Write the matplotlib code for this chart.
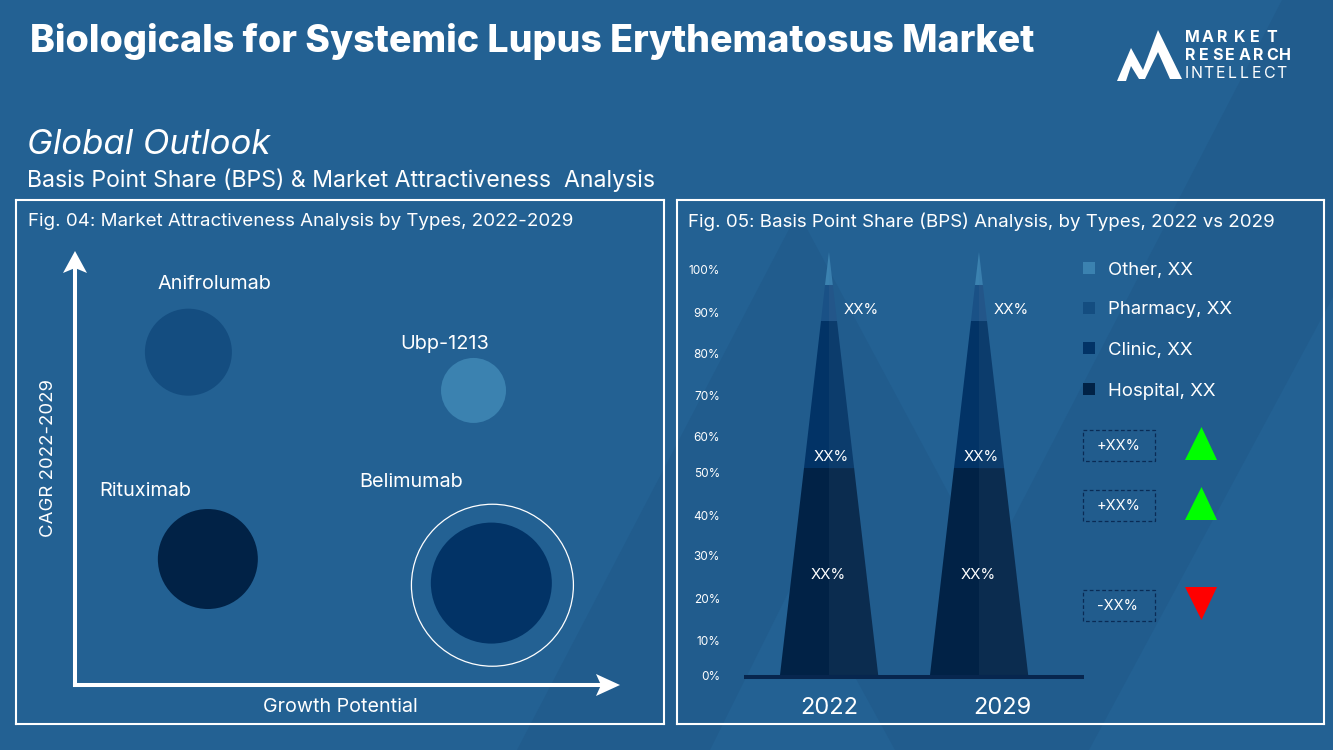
import matplotlib
matplotlib.use("Agg")
import matplotlib.pyplot as plt
from matplotlib.patches import Polygon, Rectangle

# Fig. 04 bubbles (growth potential / CAGR, 0-100 on the arrows)
types = ["Anifrolumab", "Ubp-1213", "Rituximab", "Belimumab"]
growth = [21.0, 73.8, 24.6, 77.1]
cagr = [77.4, 68.5, 29.3, 23.7]
radius_px = [43.5, 32.5, 50, 60.5]
ring_growth = 77.3
ring_cagr = 23.2
ring_px = 81

# Fig. 05 stacked pyramids
years = ["2022", "2029"]
hospital = [51.1, 51.1]
clinic = [36.3, 36.3]
pharmacy = [8.9, 8.9]
other = [8.1, 8.1]
tick_pos = [0, 8.6, 18.8, 29.4, 39.3, 49.9, 58.8, 68.9, 79.5, 89.4, 100]
tick_labels = ["0%", "10%", "20%", "30%", "40%", "50%", "60%", "70%", "80%", "90%", "100%"]
legend_labels = ["Other, XX", "Pharmacy, XX", "Clinic, XX", "Hospital, XX"]
changes = ["+XX%", "+XX%", "-XX%"]

BG = "#236193"
SHADE = "#215c8d"
NAVY = "#012246"
BLUE = "#023366"
MID = "#144d80"
LIGHT = "#3b82b0"
FONT = "Inter"

plt.rcParams["font.family"] = FONT
fig = plt.figure(figsize=(13.33, 7.5), dpi=100, facecolor=BG)


def box(x0, y0, x1, y1):
    return [x0 / 1333, 1 - y1 / 750, (x1 - x0) / 1333, (y1 - y0) / 750]


# overlay in pixels for the background, titles, logo and the side key
bg = fig.add_axes([0, 0, 1, 1], zorder=0)
bg.set_xlim(0, 1333)
bg.set_ylim(750, 0)
bg.axis("off")

bg.add_patch(Polygon([(798, 212), (517, 750), (710, 750), (798, 573), (895, 750), (1089, 750),
                      (1333, 297), (1333, 0), (1282, 0), (1012, 521), (988, 567)],
                     closed=True, fc=SHADE, ec="none"))

bg.text(30, 41, "Biologicals for Systemic Lupus Erythematosus Market", color="white",
        fontsize=27.0, fontweight=800, va="center")
bg.text(27, 145, "Global Outlook", color="white", fontsize=25, style="italic", va="center")
bg.text(27, 180, "Basis Point Share (BPS) & Market Attractiveness  Analysis", color="white",
        fontsize=16.6, va="center")
bg.text(28, 222, "Fig. 04: Market Attractiveness Analysis by Types, 2022-2029", color="white",
        fontsize=13.5, va="center")
bg.text(688, 222, "Fig. 05: Basis Point Share (BPS) Analysis, by Types, 2022 vs 2029", color="white",
        fontsize=13.5, va="center")

# logo
bg.add_patch(Polygon([(1117, 81), (1131, 48), (1143, 70), (1158, 30), (1182, 79), (1170, 79),
                      (1158, 52), (1145, 79), (1139, 79), (1131, 66), (1126, 81)],
                     closed=True, fc="white", ec="none"))
for word, y, weight, step in [("MARKET", 37, "bold", 16.2), ("RESEARCH", 56, "bold", 13.5),
                              ("INTELLECT", 74, "normal", 12.2)]:
    x = 1185
    for ch in word:
        bg.text(x, y, ch, color="white", fontsize=11.5, fontweight=weight, va="center")
        x += step * 0.5 if ch == "I" else step

# arrow heads of the Fig. 04 axes
bg.add_patch(Polygon([(75, 251), (87, 273), (75, 268), (63, 273)], closed=True, fc="white", ec="none"))
bg.add_patch(Polygon([(620, 685), (596, 674), (601, 685), (596, 696)], closed=True, fc="white", ec="none"))

# side key of Fig. 05
key_y = [268, 308, 348, 389]
for y, label, col in zip(key_y, legend_labels, [LIGHT, MID, BLUE, NAVY]):
    bg.scatter([1088.5], [y], marker="s", s=64, color=col, linewidths=0)
    bg.text(1108, y + 2, label, color="white", fontsize=13.4, va="center")

for y, label in zip([445, 505, 605], changes):
    bg.add_patch(Rectangle((1083, y - 15.5), 72, 31, fc="none", ec="#0a2b55", lw=0.9, ls=(0, (3, 2))))
    bg.text(1097, y + 1, label, color="white", fontsize=10.5, va="center")
for tip, base, col in [(427, 460, "#00ff00"), (487, 520, "#00ff00"), (620, 587, "#ff0000")]:
    bg.add_patch(Polygon([(1185, base), (1201.5, tip), (1217, base)], closed=True, fc=col, ec="none"))

# Fig. 04
ax1 = fig.add_axes(box(16, 200, 664, 724), zorder=1, facecolor="none")
ax1.set_xlim((16 - 75) / 5.4, (664 - 75) / 5.4)
ax1.set_ylim((685 - 724) / 4.3, (685 - 200) / 4.3)
ax1.set_xticks([])
ax1.set_yticks([])
for s in ax1.spines.values():
    s.set_color("white")
    s.set_linewidth(1.5)

bubble_cols = [MID, LIGHT, NAVY, BLUE]
sizes = [(2 * r * 0.72) ** 2 for r in radius_px]
ax1.scatter(growth, cagr, s=sizes, c=bubble_cols, linewidths=0)
ax1.scatter([ring_growth], [ring_cagr], s=(2 * ring_px * 0.72) ** 2, facecolors="none",
            edgecolors="white", linewidths=0.9)
ax1.plot([0, 0], [0, 98], color="white", lw=2.9, solid_capstyle="projecting")
ax1.plot([0, 98], [0, 0], color="white", lw=2.9, solid_capstyle="projecting")

name_x = [15.3, 60.2, 4.5, 52.7]
name_y = [93.2, 79.2, 45.0, 47.1]
for x, y, name in zip(name_x, name_y, types):
    ax1.text(x, y, name, color="white", fontsize=14.3, va="center")

ax1.set_xlabel("Growth Potential", color="white", fontsize=14.2, va="center")
ax1.xaxis.set_label_coords((340.5 - 16) / 648, (724 - 707) / 524)
ax1.set_ylabel("CAGR 2022-2029", color="white", fontsize=13.4, va="center")
ax1.yaxis.set_label_coords((49 - 16) / 648, (724 - 458) / 524)

# Fig. 05
ax2 = fig.add_axes(box(677, 200, 1324, 724), zorder=1, facecolor="none")
ax2.set_xlim((677 - 829) / 150, (1324 - 829) / 150)
ax2.set_ylim((675 - 724) / 4.05, (675 - 200) / 4.05)
ax2.set_xticks([])
ax2.set_yticks(tick_pos, tick_labels, color="white", fontsize=8.5)
ax2.tick_params(axis="y", length=0, pad=-31)
for s in ax2.spines.values():
    s.set_color("white")
    s.set_linewidth(1.5)

half_base = 0.328
seg_left = [NAVY, BLUE, "#1a5186", LIGHT]
seg_right = ["#0b2c4f", "#0c3c6c", "#235689", "#3a7fae"]
for i in range(len(years)):
    top = hospital[i] + clinic[i] + pharmacy[i] + other[i]
    low = 0
    for j, val in enumerate([hospital[i], clinic[i], pharmacy[i], other[i]]):
        high = low + val
        w0 = half_base * (1 - low / top)
        w1 = half_base * (1 - high / top)
        ax2.fill([i - w0, i, i, i - w1], [low, low, high, high], color=seg_left[j], lw=0)
        ax2.fill([i, i + w0, i + w1, i], [low, low, high, high], color=seg_right[j], lw=0)
        low = high

ax2.plot([-0.567, 1.7], [-0.5, -0.5], color="#07264e", lw=2.9, solid_capstyle="butt")

for x, lab in zip([0, 1.153], years):
    ax2.text(x, -8.1, lab, color="white", fontsize=17, ha="center", va="center")
for i in range(len(years)):
    ax2.text(i + 0.217, 90.2, "XX%", color="white", fontsize=10.8, ha="center", va="center")
    ax2.text(i + 0.013, 53.9, "XX%", color="white", fontsize=10.8, ha="center", va="center")
    ax2.text(i - 0.007, 24.7, "XX%", color="white", fontsize=10.8, ha="center", va="center")

fig.savefig("out.png", dpi=100, facecolor=BG)
